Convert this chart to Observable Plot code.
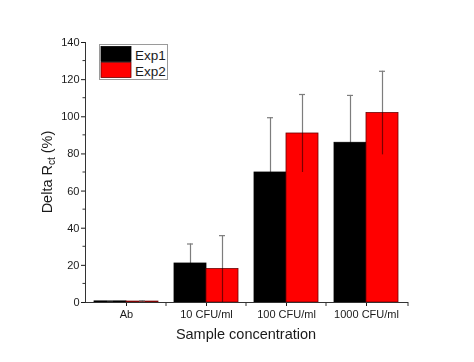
<!DOCTYPE html>
<html>
<head>
<meta charset="utf-8">
<script src="https://cdn.jsdelivr.net/npm/d3@7"></script>
<script src="https://cdn.jsdelivr.net/npm/@observablehq/plot@0.6"></script>
<style>
  body { margin: 0; background: #fff; font-family: "Liberation Sans", Arial, sans-serif; }
</style>
</head>
<body>
<div id="chart"></div>
<script>
// Change in charge-transfer resistance per sample concentration, two experiments
const categories = ["Ab", "10 CFU/ml", "100 CFU/ml", "1000 CFU/ml"];
const series = ["Exp1", "Exp2"];
const exp1Values = [0.6, 21, 70, 86];
const exp1Errors = [0.4, 10.5, 29.5, 25.5];
const exp2Values = [0.5, 18, 91, 102];
const exp2Errors = [0.4, 18, 21, 22.5];
const yTicks = [0, 20, 40, 60, 80, 100, 120, 140];
const yMinorTicks = [10, 30, 50, 70, 90, 110, 130];
const seriesColors = ["#000000", "#ff0000"];
const seriesOutlines = ["#000000", "#6e0000"];

const rows = categories.flatMap((category, i) => [
  { category, series: "Exp1", value: exp1Values[i], error: exp1Errors[i] },
  { category, series: "Exp2", value: exp2Values[i], error: exp2Errors[i] }
]);

const axisColor = "#333";
const errColor = "#7d7d7d";

const plot = Plot.plot({
  width: 474,
  height: 362,
  marginLeft: 86,
  marginRight: 68,
  marginTop: 42,
  marginBottom: 60,
  style: { fontFamily: "Liberation Sans, Arial, sans-serif", fontSize: "11px", color: "#1a1a1a", background: "#fff" },
  fx: { domain: categories, padding: 0, axis: "bottom", label: null, tickSize: 4, tickPadding: 4 },
  x: { domain: series, paddingInner: 0, paddingOuter: 0.23, axis: null },
  y: { domain: [0, 140], ticks: yTicks, tickSize: 5, tickPadding: 2, label: null },
  color: { domain: series, range: seriesColors },
  marks: [
    ...series.map((s, k) =>
      Plot.barY(rows.filter(d => d.series === s), {
        fx: "category", x: "series", y: "value",
        fill: seriesColors[k], stroke: seriesOutlines[k], strokeWidth: 0.8
      })
    ),
    Plot.ruleX(rows, {
      fx: "category", x: "series",
      y1: d => d.value - d.error, y2: d => d.value + d.error,
      stroke: errColor, strokeWidth: 1.2, mixBlendMode: "multiply"
    }),
    Plot.tickY(rows, {
      fx: "category", x: "series", y: d => d.value + d.error,
      stroke: errColor, strokeWidth: 1.2, insetLeft: 13, insetRight: 13
    })
  ]
});

document.getElementById("chart").appendChild(plot);

// Axis lines, minor ticks, titles and legend, placed with the plot's own scales
const svg = d3.select(plot);
const fx = plot.scale("fx");
const y = plot.scale("y");
const color = plot.scale("color");
const left = fx.range[0];
const right = fx.range[1];
const y0 = y.apply(0);

const g = svg.append("g").attr("stroke", axisColor).attr("stroke-width", 1);
g.append("line").attr("x1", left - 0.5).attr("x2", left - 0.5).attr("y1", y.apply(140)).attr("y2", y0 + 0.5);
g.append("line").attr("x1", left - 0.5).attr("x2", right + 2).attr("y1", y0 + 0.5).attr("y2", y0 + 0.5);
yMinorTicks.forEach(t => {
  g.append("line").attr("x1", left - 3.5).attr("x2", left - 0.5).attr("y1", y.apply(t)).attr("y2", y.apply(t));
});
categories.slice(1).forEach(c => {
  const bx = fx.apply(c);
  g.append("line").attr("x1", bx).attr("x2", bx).attr("y1", y0).attr("y2", y0 + 4);
});
g.append("line").attr("x1", right + 2).attr("x2", right + 2).attr("y1", y0).attr("y2", y0 + 4);

// Axis titles
svg.append("text")
  .attr("x", (left + right) / 2).attr("y", 338.5)
  .attr("text-anchor", "middle").attr("font-size", 14.5).attr("fill", "#1a1a1a")
  .text("Sample concentration");

const yl = svg.append("text")
  .attr("transform", "translate(51.5,172) rotate(-90)")
  .attr("text-anchor", "middle").attr("font-size", 14.5).attr("fill", "#1a1a1a");
yl.append("tspan").text("Delta R");
yl.append("tspan").attr("font-size", 10).attr("dy", 3).text("ct");
yl.append("tspan").attr("dy", -3).text(" (%)");

// Legend
const lg = svg.append("g").attr("text-anchor", "start");
lg.append("rect").attr("x", 99.5).attr("y", 44.5).attr("width", 68).attr("height", 35)
  .attr("fill", "#fff").attr("stroke", "#9a9a9a");
series.forEach((s, k) => {
  lg.append("rect").attr("x", 101).attr("y", 46.5 + k * 16).attr("width", 30).attr("height", 15)
    .attr("fill", color.apply(s)).attr("stroke", seriesOutlines[k]).attr("stroke-width", 0.8);
  lg.append("text").attr("x", 135).attr("y", 59.5 + k * 16)
    .attr("text-anchor", "start")
    .attr("font-size", 13.5).attr("fill", "#1a1a1a").text(s);
});
</script>
</body>
</html>
